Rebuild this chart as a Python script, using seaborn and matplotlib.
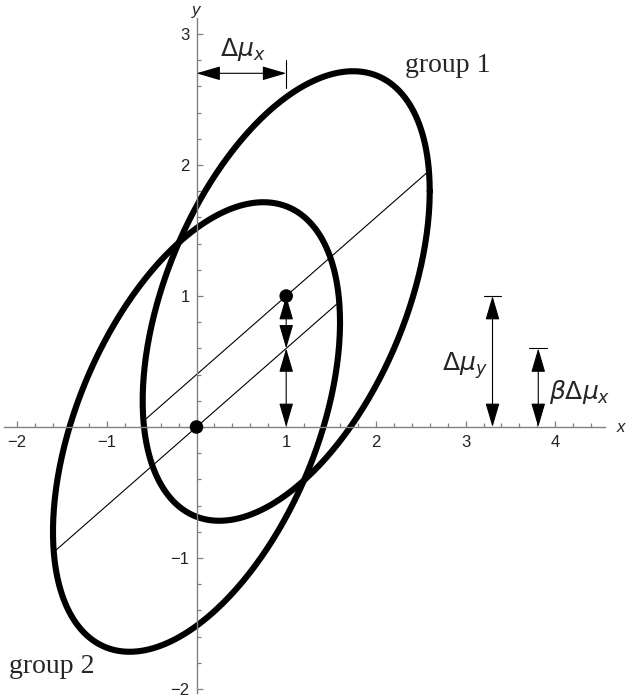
import numpy as np
import pandas as pd
import matplotlib
matplotlib.use("Agg")
import matplotlib.pyplot as plt
import seaborn as sns

# group means and shared covariance
groups = ["group 1", "group 2"]
mean_x = [1.0, 0.0]
mean_y = [1.0, 0.0]
var_x = 1.0
var_y = 1.15
cov_xy = 0.5
radius = 1.6  # contour level (in sd units)
beta = 0.6    # slope of the drawn lines (upper line hits y axis at 0.4)

x_major = [-2, -1, 1, 2, 3, 4]
y_major = [-2, -1, 1, 2, 3]

sns.set_style("white")
plt.rcParams["font.family"] = ["Liberation Sans", "DejaVu Sans"]

# build the ellipse outlines and line segments
sx, sy = np.sqrt(var_x), np.sqrt(var_y)
rho = cov_xy / (sx * sy)
inv = np.linalg.inv(np.array([[var_x, cov_xy], [cov_xy, var_y]]))
d = np.array([1.0, beta])
half_len = radius / np.sqrt(d @ inv @ d)  # where the line meets the contour

t = np.linspace(0, 2 * np.pi, 400)
ell_rows = []
line_rows = []
for g, mx, my in zip(groups, mean_x, mean_y):
    ex = mx + radius * sx * np.cos(t)
    ey = my + radius * sy * (rho * np.cos(t) + np.sqrt(1 - rho ** 2) * np.sin(t))
    ell_rows.append(pd.DataFrame({"x": ex, "y": ey, "group": g}))
    lx = np.array([mx - half_len, mx + half_len])
    line_rows.append(pd.DataFrame({"x": lx, "y": my + beta * (lx - mx), "group": g}))
ellipses = pd.concat(ell_rows, ignore_index=True)
lines = pd.concat(line_rows, ignore_index=True)
centers = pd.DataFrame({"x": mean_x, "y": mean_y, "group": groups})

fig = plt.figure(figsize=(6.32, 6.98), dpi=100)
ax = fig.add_axes([0, 0, 1, 1])

sns.lineplot(data=ellipses, x="x", y="y", units="group", estimator=None, sort=False,
             color="black", lw=4.4, ax=ax)
sns.lineplot(data=lines, x="x", y="y", units="group", estimator=None, sort=False,
             color="black", lw=0.8, ax=ax)
sns.scatterplot(data=centers, x="x", y="y", color="black", s=95, edgecolor="none",
                zorder=5, ax=ax)

ax.set_xlim(-196.5 / 89.7, (632 - 196.5) / 89.7)
ax.set_ylim((427 - 698) / 131, 427 / 131)

# Mathematica style axes through the origin
axis_col = "#808080"
for side in ["top", "right"]:
    ax.spines[side].set_visible(False)
ax.spines["left"].set_position(("data", 0))
ax.spines["bottom"].set_position(("data", 0))
ax.spines["left"].set_bounds(-2.03, 3.12)
ax.spines["bottom"].set_bounds(-2.15, 4.55)
for side in ["left", "bottom"]:
    ax.spines[side].set_color(axis_col)
    ax.spines[side].set_linewidth(1.0)
ax.set_xticks(x_major)
ax.set_yticks(y_major)
ax.set_xticks([v for v in np.round(np.arange(-2.0, 4.5, 0.2), 1) if v not in x_major and v != 0], minor=True)
ax.set_yticks([v for v in np.round(np.arange(-2.0, 3.01, 0.2), 1) if v not in y_major and v != 0], minor=True)
ax.set_xticklabels([f"\u2212{abs(v)}" if v < 0 else str(v) for v in x_major])
ax.set_yticklabels([f"\u2212{abs(v)}" if v < 0 else str(v) for v in y_major])
ax.tick_params(which="both", direction="in", color=axis_col, width=0.9, labelsize=12,
               labelcolor="#222222", bottom=True, left=True)
ax.tick_params(which="major", length=4.6)
ax.tick_params(which="minor", length=2.6)
ax.tick_params(axis="x", pad=6)
ax.tick_params(axis="y", pad=5)
ax.set_xlabel("")
ax.set_ylabel("")
ax.text(4.73, 0, "x", style="italic", fontsize=12, color="#222222", ha="center", va="center")
ax.text(0, 3.18, "y", style="italic", fontsize=12, color="#222222", ha="center", va="center")

# arrows
def darrow(x0, y0, x1, y1):
    ax.annotate("", xy=(x1, y1), xytext=(x0, y0),
                arrowprops=dict(arrowstyle="<|-|>,head_length=0.75,head_width=0.22",
                                mutation_scale=20, color="black", lw=0.8,
                                shrinkA=0, shrinkB=0))

dmx, dmy = mean_x[0] - mean_x[1], mean_y[0] - mean_y[1]
bdx = beta * dmx

darrow(0, 2.70, dmx, 2.70)
ax.plot([dmx, dmx], [2.59, 2.80], color="black", lw=0.8)
ax.text(0.52, 2.88, r"$\Delta\mu_x$", fontsize=18, ha="center", va="center")

darrow(1, dmy, 1, bdx)
darrow(1, bdx, 1, 0)

ax_dy = 3.30
darrow(ax_dy, 0, ax_dy, dmy)
ax.plot([ax_dy - 0.1, ax_dy + 0.1], [dmy, dmy], color="black", lw=0.8)
ax.text(ax_dy - 0.06, 0.47, r"$\Delta\mu_y$", fontsize=18, ha="right", va="center")

ax_bx = 3.81
darrow(ax_bx, 0, ax_bx, bdx)
ax.plot([ax_bx - 0.1, ax_bx + 0.1], [bdx, bdx], color="black", lw=0.8)
ax.text(ax_bx + 0.12, 0.27, r"$\beta\Delta\mu_x$", fontsize=18, ha="left", va="center")

ax.text(2.32, 2.71, "group 1", family="Liberation Serif", fontsize=20, ha="left", va="baseline")
ax.text(-2.09, -1.88, "group 2", family="Liberation Serif", fontsize=20, ha="left", va="baseline")

fig.savefig("out.png", dpi=100)
